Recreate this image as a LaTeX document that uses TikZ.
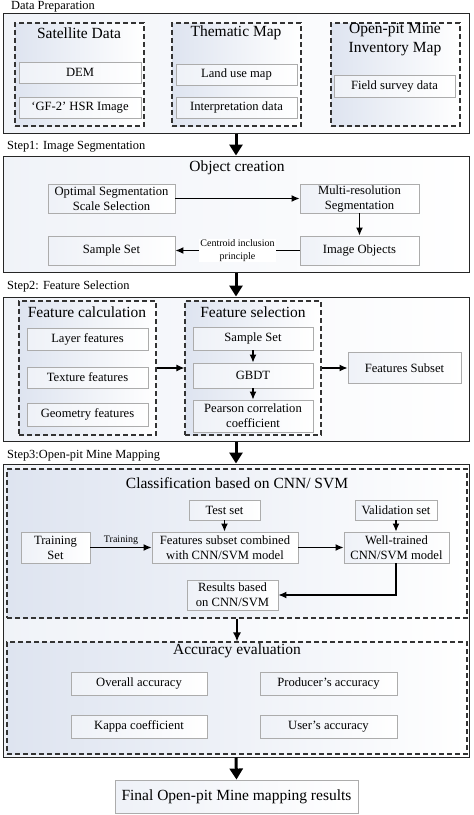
\documentclass[tikz,border=0pt]{standalone}
\usepackage{fontspec}
\setmainfont{Liberation Serif}
\usetikzlibrary{positioning,calc,arrows.meta}
\definecolor{shadeblue}{RGB}{222,228,240}
\begin{document}
\begin{tikzpicture}[x=1pt,y=-1pt,
				stage/.style={draw=black!85,line width=1pt,rectangle,inner sep=0pt,left color=shadeblue!45,right color=white},
				group/.style={draw=black!80,line width=1.1pt,dash pattern=on 5pt off 3pt,rectangle,inner sep=0pt,left color=shadeblue,right color=white},
				item/.style={draw=gray!65,line width=0.9pt,rectangle,inner sep=1pt,align=center,left color=shadeblue!50,right color=white,font=\fontsize{12.6}{15}\selectfont},
				head/.style={font=\fontsize{15.5}{19}\selectfont,align=center,inner sep=0pt},
				steplbl/.style={anchor=west,inner sep=0pt,font=\fontsize{12.4}{14}\selectfont},
				note/.style={font=\fontsize{10}{12.5}\selectfont,align=center,inner sep=1pt},
				bigarrow/.style={line width=3pt,-{Triangle[width=13pt,length=11pt]}},
				arr/.style={line width=1.2pt,-{Latex[width=7pt,length=8pt]}}]
				\useasboundingbox (0,0) rectangle (474,815);

				% Data Preparation
				\node[steplbl] (l0) at (11,7) {Data Preparation};
				\node[stage,minimum width=466pt,minimum height=120pt] (prep) at (236,73) {};
				\node[group,minimum width=129pt,minimum height=103pt] (sat)  at (79.5,74.5) {};
				\node[group,minimum width=129pt,minimum height=103pt] (them) at (236.5,74.5) {};
				\node[group,minimum width=129pt,minimum height=103pt] (inv)  at (395.5,74.5) {};
				\node[head] (tsat)  at (79,33)  {Satellite Data};
				\node[head] (tthem) at (236,33) {Thematic Map};
				\node[head] (tinv)  at (395,40) {Open-pit Mine\\Inventory Map};
				\node[item,minimum width=122pt,minimum height=21pt] (dem)    at (80,72.5)    {DEM};
				\node[item,minimum width=122pt,minimum height=21pt] (gf)     at (80,107.5)   {‘GF-2’ HSR Image};
				\node[item,minimum width=121pt,minimum height=21pt] (land)   at (236.5,74.5) {Land use map};
				\node[item,minimum width=121pt,minimum height=21pt] (interp) at (236.5,107.5) {Interpretation data};
				\node[item,minimum width=121pt,minimum height=22pt] (field)  at (394.5,86)   {Field survey data};

				% Step1
				\node[steplbl] (l1) at (7,147) {Step1: Image Segmentation};
				\node[stage,minimum width=466pt,minimum height=116pt] (seg) at (236,214) {};
				\node[head] (tseg) at (237,168) {Object creation};
				\node[item,minimum width=127pt,minimum height=29pt] (opt)  at (111.5,198.5) {Optimal Segmentation\\Scale Selection};
				\node[item,minimum width=119pt,minimum height=29pt] (mrs)  at (359.5,198.5) {Multi-resolution\\Segmentation};
				\node[item,minimum width=119pt,minimum height=29pt] (iobj) at (359.5,250.5) {Image Objects};
				\node[item,minimum width=127pt,minimum height=29pt] (sset) at (111.5,250.5) {Sample Set};

				\draw[bigarrow] (prep.south -| seg.north) -- (seg.north);
				\draw[arr] (opt.east) -- (mrs.west);
				\draw[arr] (mrs.south) -- (iobj.north);
				\draw[arr] (iobj.west) -- node[note,fill=white,midway] {Centroid inclusion\\principle} (sset.east);

				% Step2
				\node[steplbl] (l2) at (7,287) {Step2: Feature Selection};
				\node[stage,minimum width=466pt,minimum height=144pt] (feat) at (236,369) {};
				\node[group,minimum width=137pt,minimum height=134pt] (fcalc) at (87.5,368) {};
				\node[group,minimum width=136pt,minimum height=134pt] (fsel)  at (253,368) {};
				\node[head] (tcalc) at (87,312)  {Feature calculation};
				\node[head] (tsel)  at (253,312) {Feature selection};
				\node[item,minimum width=121pt,minimum height=22pt] (layer) at (87.5,339)   {Layer features};
				\node[item,minimum width=121pt,minimum height=21pt] (tex)   at (87.5,377.5) {Texture features};
				\node[item,minimum width=121pt,minimum height=23pt] (geo)   at (87.5,414.5) {Geometry features};
				\node[item,minimum width=120pt,minimum height=23pt] (samp)  at (253,338.5)  {Sample Set};
				\node[item,minimum width=120pt,minimum height=25pt] (gbdt)  at (253,375.5)  {GBDT};
				\node[item,minimum width=120pt,minimum height=32pt] (pcc)   at (253,416)    {Pearson correlation\\coefficient};
				\node[item,minimum width=113pt,minimum height=31pt] (fsub)  at (404.5,368)  {Features Subset};

				\draw[bigarrow] (seg.south) -- (feat.north);
				\draw[arr] (samp.south) -- (gbdt.north);
				\draw[arr] (gbdt.south) -- (pcc.north);
				\draw[arr] (fcalc.east) -- (fsel.west);
				\draw[arr] (fsel.east) -- (fsub.west);

				% Step3
				\node[steplbl] (l3) at (7,456) {Step3:Open-pit Mine Mapping};
				\node[stage,minimum width=466pt,minimum height=293pt] (map) at (236,610.5) {};
				\node[group,minimum width=460pt,minimum height=149pt] (cls) at (237,543.5) {};
				\node[group,minimum width=460pt,minimum height=112pt] (acc) at (237,698) {};
				\node[head] (tcls) at (237,483) {Classification based on CNN/ SVM};
				\node[item,minimum width=71pt,minimum height=20pt]  (test)  at (224.5,510) {Test set};
				\node[item,minimum width=82pt,minimum height=20pt]  (valid) at (396,510)   {Validation set};
				\node[item,minimum width=69pt,minimum height=31pt]  (train) at (55.5,547.5) {Training\\Set};
				\node[item,minimum width=146pt,minimum height=31pt] (fcomb) at (225,547.5)  {Features subset combined\\with CNN/SVM model};
				\node[item,minimum width=105pt,minimum height=31pt] (well)  at (396.5,547.5) {Well-trained\\CNN/SVM model};
				\node[item,minimum width=91pt,minimum height=30pt]  (res)   at (232.5,595)  {Results based\\on CNN/SVM};
				\node[head] (tacc) at (237,651) {Accuracy evaluation};
				\node[item,minimum width=136pt,minimum height=23pt] (oa)  at (139,683.5)   {Overall accuracy};
				\node[item,minimum width=137pt,minimum height=23pt] (pa)  at (328.5,683.5) {Producer’s accuracy};
				\node[item,minimum width=136pt,minimum height=23pt] (kap) at (139,726.5)   {Kappa coefficient};
				\node[item,minimum width=137pt,minimum height=23pt] (ua)  at (328.5,726.5) {User’s accuracy};

				\draw[bigarrow] (feat.south) -- (map.north);
				\draw[arr] (test.south) -- (test.south |- fcomb.north);
				\draw[arr] (valid.south) -- (valid.south |- well.north);
				\draw[arr] (train.east) -- node[note,midway,above=1pt] {Training} (fcomb.west);
				\draw[arr] (fcomb.east) -- (well.west);
				\draw[arr] (valid.south |- well.south) |- (res.east);
				\draw[line width=1.5pt,-{Latex[width=8pt,length=9pt]}] (cls.south) -- (acc.north);

				% result
				\node[item,minimum width=243pt,minimum height=33pt,font=\fontsize{15.5}{19}\selectfont] (final) at (236.5,796.5) {Final Open-pit Mine mapping results};
				\draw[bigarrow] (map.south) -- (final.north);
			\end{tikzpicture}
\end{document}
